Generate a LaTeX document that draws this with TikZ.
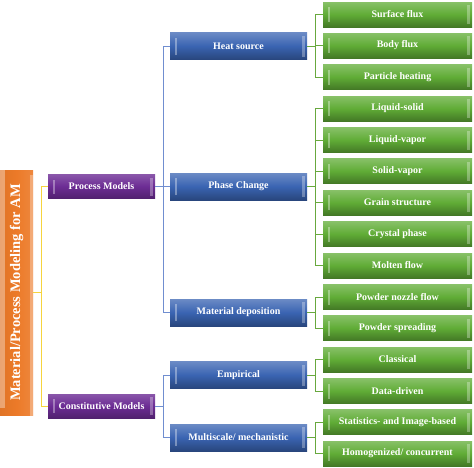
\documentclass[tikz,border=0pt]{standalone}
\usepackage{fontspec}
\setmainfont{Liberation Serif}

\definecolor{rootorange}{RGB}{236,122,40}
\definecolor{purplebox}{RGB}{108,44,148}
\definecolor{bluebox}{RGB}{58,100,178}
\definecolor{greenbox}{RGB}{96,172,54}
\definecolor{yellowline}{RGB}{246,212,62}
\definecolor{blueline}{RGB}{112,142,208}
\definecolor{greenline}{RGB}{104,168,62}

\begin{document}
\begin{tikzpicture}[x=1pt, y=-1pt,
    box/.style={rectangle, text=white, font=\bfseries, inner sep=0pt,
        path picture={
            \fill[white, opacity=0.35] ([xshift=5pt,yshift=-5pt]path picture bounding box.north west) rectangle ([xshift=7pt,yshift=5pt]path picture bounding box.south west);
            \fill[white, opacity=0.3] ([xshift=-5pt,yshift=-3pt]path picture bounding box.north east) rectangle ([xshift=-2pt,yshift=3pt]path picture bounding box.south east);
        }},
    rootbox/.style={box, rotate=90, minimum width=245pt, minimum height=33pt,
        left color=rootorange!95!black, right color=rootorange!90!white, middle color=rootorange,
        font=\bfseries\fontsize{14.5}{16}\selectfont},
    modelbox/.style={box, minimum width=107pt, minimum height=24pt,
        top color=purplebox!80!white, bottom color=purplebox!75!black, middle color=purplebox,
        font=\bfseries\fontsize{10}{12}\selectfont},
    groupbox/.style={box, minimum width=137pt, minimum height=27pt,
        top color=bluebox!75!white, bottom color=bluebox!70!black, middle color=bluebox,
        font=\bfseries\fontsize{10}{12}\selectfont},
    leafbox/.style={box, minimum width=149pt, minimum height=25pt,
        top color=greenbox!75!white, bottom color=greenbox!70!black, middle color=greenbox,
        font=\bfseries\fontsize{10}{12}\selectfont},
    link/.style={line width=0.9pt}
]
    \useasboundingbox (0,0) rectangle (474,467);

    % Draw nodes
    \node[rootbox] (root) at (16.5,292.5) {Material/Process Modeling for AM};

    \node[modelbox] (process) at (101.5,186.5) {Process Models};
    \node[modelbox] (constit) at (101.5,406) {Constitutive Models};

    \node[groupbox] (heat) at (238.5,46) {Heat source};
    \node[groupbox] (phase) at (238.5,186.5) {Phase Change};
    \node[groupbox] (depo) at (238.5,312.5) {Material deposition};
    \node[groupbox] (empir) at (238.5,375) {Empirical};
    \node[groupbox] (multi) at (238.5,437.5) {Multiscale/ mechanistic};

    \node[leafbox] (surf) at (397.5,14.5) {Surface flux};
    \node[leafbox] (body) at (397.5,45.5) {Body flux};
    \node[leafbox] (part) at (397.5,77) {Particle heating};
    \node[leafbox] (liqsol) at (397.5,108.5) {Liquid-solid};
    \node[leafbox] (liqvap) at (397.5,140) {Liquid-vapor};
    \node[leafbox] (solvap) at (397.5,171) {Solid-vapor};
    \node[leafbox] (grain) at (397.5,202.5) {Grain structure};
    \node[leafbox] (crystal) at (397.5,234) {Crystal phase};
    \node[leafbox] (molten) at (397.5,265.5) {Molten flow};
    \node[leafbox] (nozzle) at (397.5,297) {Powder nozzle flow};
    \node[leafbox] (spread) at (397.5,328) {Powder spreading};
    \node[leafbox] (classic) at (397.5,359.5) {Classical};
    \node[leafbox] (datadr) at (397.5,391) {Data-driven};
    \node[leafbox] (stats) at (397.5,422) {Statistics- and Image-based};
    \node[leafbox] (homog) at (397.5,453.5) {Homogenized/ concurrent};

    % Draw connections
    \draw[link, yellowline] (root.south) -- ++(8,0) |- (process.west);
    \draw[link, yellowline] (root.south) -- ++(8,0) |- (constit.west);

    \draw[link, blueline] (process.east) -- ++(8,0) |- (heat.west);
    \draw[link, blueline] (process.east) -- ++(8,0) |- (phase.west);
    \draw[link, blueline] (process.east) -- ++(8,0) |- (depo.west);
    \draw[link, blueline] (constit.east) -- ++(8,0) |- (empir.west);
    \draw[link, blueline] (constit.east) -- ++(8,0) |- (multi.west);

    \draw[link, greenline] (heat.east) -- ++(8,0) |- (surf.west);
    \draw[link, greenline] (heat.east) -- ++(8,0) |- (body.west);
    \draw[link, greenline] (heat.east) -- ++(8,0) |- (part.west);
    \draw[link, greenline] (phase.east) -- ++(8,0) |- (liqsol.west);
    \draw[link, greenline] (phase.east) -- ++(8,0) |- (liqvap.west);
    \draw[link, greenline] (phase.east) -- ++(8,0) |- (solvap.west);
    \draw[link, greenline] (phase.east) -- ++(8,0) |- (grain.west);
    \draw[link, greenline] (phase.east) -- ++(8,0) |- (crystal.west);
    \draw[link, greenline] (phase.east) -- ++(8,0) |- (molten.west);
    \draw[link, greenline] (depo.east) -- ++(8,0) |- (nozzle.west);
    \draw[link, greenline] (depo.east) -- ++(8,0) |- (spread.west);
    \draw[link, greenline] (empir.east) -- ++(8,0) |- (classic.west);
    \draw[link, greenline] (empir.east) -- ++(8,0) |- (datadr.west);
    \draw[link, greenline] (multi.east) -- ++(8,0) |- (stats.west);
    \draw[link, greenline] (multi.east) -- ++(8,0) |- (homog.west);
\end{tikzpicture}
\end{document}
